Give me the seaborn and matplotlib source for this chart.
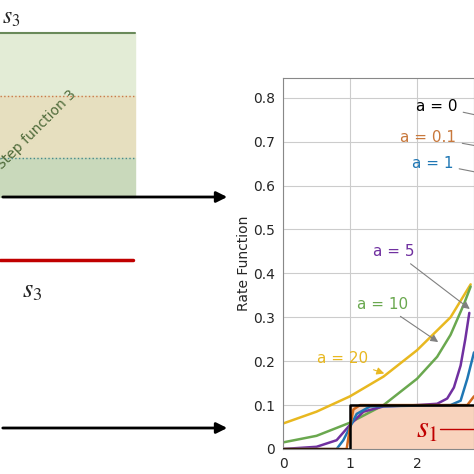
import numpy as np
import matplotlib.pyplot as plt
import seaborn as sns
from matplotlib.patches import Rectangle

# curves (x, rate)
x20 = [0, 0.5, 1, 1.5, 2, 2.5, 2.8]
y20 = [0.058, 0.085, 0.12, 0.165, 0.225, 0.30, 0.375]
x10 = [0, 0.5, 1, 1.5, 2, 2.3, 2.5, 2.7, 2.8]
y10 = [0.015, 0.03, 0.06, 0.10, 0.16, 0.21, 0.26, 0.33, 0.37]
x5 = [0, 0.5, 0.8, 1, 1.2, 1.5, 2, 2.3, 2.45, 2.55, 2.65, 2.72, 2.78]
y5 = [0, 0.005, 0.02, 0.055, 0.085, 0.097, 0.1, 0.103, 0.115, 0.14, 0.19, 0.25, 0.31]
x1 = [0, 0.8, 0.9, 1, 1.1, 1.3, 2.5, 2.65, 2.75, 2.85]
y1 = [0, 0.0, 0.02, 0.05, 0.08, 0.097, 0.1, 0.11, 0.16, 0.22]
x01 = [0, 0.95, 1, 1.05, 1.15, 2.75, 2.85]
y01 = [0, 0.0, 0.05, 0.09, 0.1, 0.1, 0.12]
x0 = [0, 1, 1, 2.9]
y0 = [0, 0, 0.1, 0.1]

sns.set_style('whitegrid')
plt.rcParams['font.family'] = ['DejaVu Sans']
plt.rcParams['mathtext.fontset'] = 'stix'
fig = plt.figure(figsize=(4.74, 4.74), dpi=100)

# background drawing area in pixel coordinates
bg = fig.add_axes([0, 0, 1, 1])
bg.set_xlim(0, 474)
bg.set_ylim(474, 0)
bg.axis('off')
bg.add_patch(Rectangle((0, 33), 135, 63, color='#e3ecd6'))
bg.add_patch(Rectangle((0, 96), 135, 62, color='#e6dfbf'))
bg.add_patch(Rectangle((0, 158), 135, 39, color='#c9d9bb'))
bg.plot([0, 135], [33, 33], color='#6a8a5a', lw=1.5)
bg.plot([0, 135], [96, 96], color='#c87a4a', lw=1, ls=':')
bg.plot([0, 135], [158, 158], color='#4a8a8a', lw=1, ls=':')
bg.annotate('', xy=(230, 197), xytext=(0, 197),
            arrowprops=dict(arrowstyle='-|>', color='black', lw=2, mutation_scale=16))
bg.annotate('', xy=(230, 428), xytext=(0, 428),
            arrowprops=dict(arrowstyle='-|>', color='black', lw=2, mutation_scale=16))
bg.plot([0, 133], [260, 260], color='#c00000', lw=2.5)
bg.text(4, 172, 'Step function 3', rotation=45, color='#4f6b3a', fontsize=10,
        ha='left', va='bottom', rotation_mode='anchor')
bg.text(22, 297, '$s_3$', fontsize=19)
bg.text(2, 24, '$s_3$', fontsize=17)

# right panel
ax = fig.add_axes([283 / 474, 25 / 474, 1 - 283 / 474, 371 / 474])
ax.add_patch(Rectangle((1, 0), 2, 0.1, color='#f8d3bd', zorder=1))
sns.lineplot(x=x20, y=y20, ax=ax, color='#e8b820', lw=1.8)
sns.lineplot(x=x10, y=y10, ax=ax, color='#6aa84f', lw=1.8)
sns.lineplot(x=x5, y=y5, ax=ax, color='#7030a0', lw=1.8)
sns.lineplot(x=x1, y=y1, ax=ax, color='#1f77b4', lw=1.8)
sns.lineplot(x=x01, y=y01, ax=ax, color='#d2691e', lw=1.8)
ax.plot(x0, y0, color='black', lw=1.8, zorder=5)
ax.set_xlim(0, 2.85)
ax.set_ylim(0, 0.845)
ax.set_xticks([0, 1, 2])
ax.set_yticks(np.arange(0, 0.81, 0.1))
ax.set_yticklabels(['0', '0.1', '0.2', '0.3', '0.4', '0.5', '0.6', '0.7', '0.8'])
ax.tick_params(labelsize=10, pad=2)
ax.set_ylabel('Rate Function', fontsize=10, labelpad=2)
for s in ax.spines.values():
    s.set_color('#888888')

thin = dict(arrowstyle='-', color='gray', lw=0.8)
ax.annotate('a = 0', xy=(2.9, 0.76), xytext=(1.98, 0.77), fontsize=11, color='black',
            arrowprops=thin, annotation_clip=False)
ax.annotate('a = 0.1', xy=(2.9, 0.69), xytext=(1.75, 0.70), fontsize=11, color='#c8783c',
            arrowprops=thin, annotation_clip=False)
ax.annotate('a = 1', xy=(2.9, 0.63), xytext=(1.92, 0.64), fontsize=11, color='#1f77b4',
            arrowprops=thin, annotation_clip=False)
ax.annotate('a = 5', xy=(2.82, 0.315), xytext=(1.35, 0.44), fontsize=11, color='#7030a0',
            arrowprops=dict(arrowstyle='-|>', color='gray', lw=0.8))
ax.annotate('a = 10', xy=(2.35, 0.24), xytext=(1.1, 0.32), fontsize=11, color='#6aa84f',
            arrowprops=dict(arrowstyle='-|>', color='gray', lw=0.8))
ax.annotate('a = 20', xy=(1.55, 0.17), xytext=(0.5, 0.195), fontsize=11, color='#e8b820',
            arrowprops=dict(arrowstyle='-|>', color='#e8b820', lw=0.8))
ax.text(1.98, 0.025, '$s_1$', fontsize=22, color='#c00000')
ax.plot([2.35, 2.85], [0.045, 0.045], color='#c00000', lw=1)

fig.savefig('out.png', dpi=100)
